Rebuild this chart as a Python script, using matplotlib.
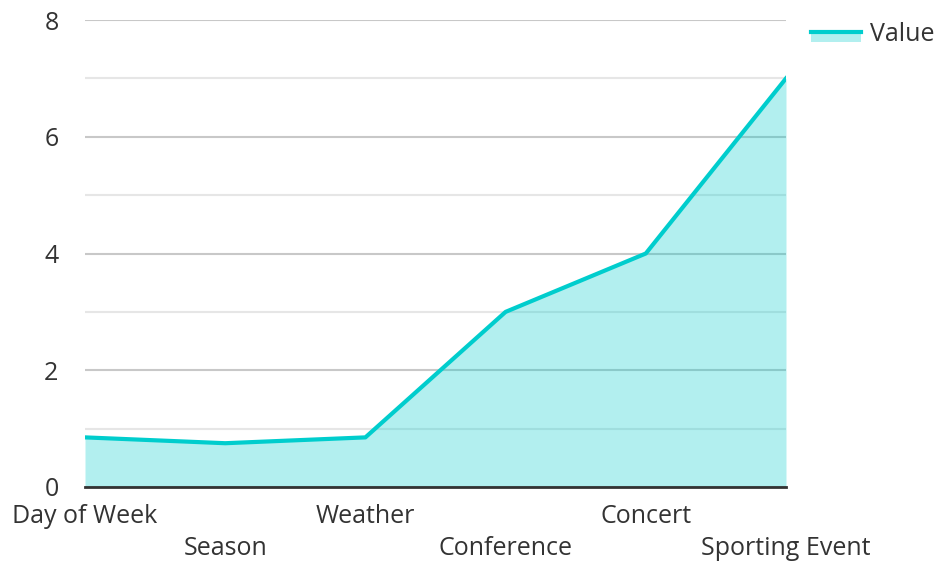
import matplotlib
matplotlib.use("Agg")
import matplotlib.pyplot as plt
from matplotlib.lines import Line2D
from matplotlib.patches import Patch, Rectangle
from matplotlib.legend_handler import HandlerBase

categories = ["Day of Week", "Season", "Weather", "Conference", "Concert", "Sporting Event"]
values = [0.85, 0.75, 0.85, 3.0, 4.0, 7.0]
y_ticks = [0, 2, 4, 6, 8]
minor_ticks = [1, 3, 5, 7]

plt.rcParams['font.family'] = ['Open Sans', 'Noto Sans', 'DejaVu Sans']
line_color = "#00CDCD"
fill_rgba = (0.0, 205/255, 205/255, 0.3)
text_color = "#333333"
FS = 18

fig = plt.figure(figsize=(9.35, 5.63), dpi=100)
ax = fig.add_axes([85/935, 1-487/563, (786-85)/935, (487-20)/563])

x = list(range(len(categories)))
ax.fill_between(x, values, 0, color=fill_rgba, linewidth=0, zorder=3)
ax.plot(x, values, color=line_color, linewidth=3, zorder=4)

ax.set_xlim(0, len(categories) - 1)
ax.set_ylim(0, 8)

ax.set_yticks(y_ticks)
ax.set_yticks(minor_ticks, minor=True)
ax.set_axisbelow(True)
ax.grid(which='major', axis='y', color='#c8c8c8', linewidth=1.5, zorder=1)
ax.grid(which='minor', axis='y', color='#e6e6e6', linewidth=1.5, zorder=1)

ax.set_xticks(x)
labels = [c if i % 2 == 0 else "\n" + c for i, c in enumerate(categories)]
ax.set_xticklabels(labels, fontsize=FS, color=text_color, linespacing=1.4)
ax.tick_params(axis='x', length=0, pad=12)
ax.tick_params(axis='y', which='both', length=0, pad=19, labelsize=FS, labelcolor=text_color)

for s in ['top', 'right', 'left']:
    ax.spines[s].set_visible(False)
ax.spines['bottom'].set_color('#333333')
ax.spines['bottom'].set_linewidth(2)
ax.spines['bottom'].set_zorder(5)


class AreaHandler(HandlerBase):
    def create_artists(self, legend, orig_handle, xdescent, ydescent, width, height, fontsize, trans):
        r = Rectangle((-xdescent, -ydescent - height * 0.05), width, height * 0.55, facecolor=fill_rgba,
                      edgecolor='none', transform=trans)
        l = Line2D([-xdescent, -xdescent + width], [-ydescent + height * 0.5] * 2,
                   color=line_color, linewidth=3, transform=trans)
        return [r, l]

proxy = Patch(label="Value")
leg = fig.legend(handles=[proxy], labels=["Value"], handler_map={Patch: AreaHandler()},
                 loc='upper left', bbox_to_anchor=(811/935, 1-22/563), frameon=False,
                 fontsize=FS, handlelength=2.0, handletextpad=0.36, borderaxespad=0,
                 borderpad=0)
for t in leg.get_texts():
    t.set_color(text_color)

fig.savefig("out.png", dpi=100)
